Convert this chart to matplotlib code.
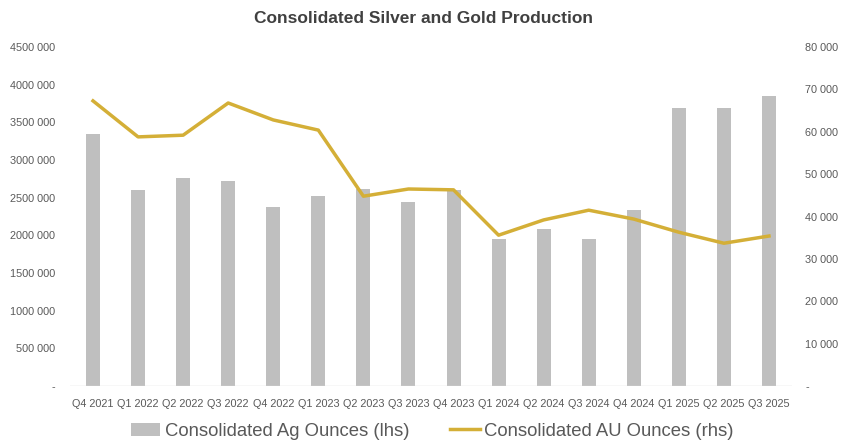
import numpy as np
import matplotlib.pyplot as plt
from matplotlib.ticker import FuncFormatter

quarters = ['Q4 2021', 'Q1 2022', 'Q2 2022', 'Q3 2022', 'Q4 2022', 'Q1 2023',
            'Q2 2023', 'Q3 2023', 'Q4 2023', 'Q1 2024', 'Q2 2024', 'Q3 2024',
            'Q4 2024', 'Q1 2025', 'Q2 2025', 'Q3 2025']
ag_oz = [3345000, 2600000, 2760000, 2720000, 2376000, 2520000, 2615000, 2440000,
         2600000, 1950000, 2080000, 1950000, 2340000, 3690000, 3690000, 3850000]
au_oz = [67300, 58800, 59200, 66800, 62800, 60400, 44800, 46500,
         46300, 35600, 39200, 41500, 39400, 36300, 33700, 35400]

plt.rcParams['font.family'] = ['Liberation Sans', 'DejaVu Sans']

def fmt(v, pos):
    if v == 0:
        return '-'
    v = int(v)
    return f'{v // 1000} {v % 1000:03d}'

fig = plt.figure(figsize=(8.46, 4.44), dpi=100)
ax = fig.add_axes([0.0833, 0.1306, 0.8523, 0.7634])
ax2 = ax.twinx()

x = np.arange(len(quarters))
bars = ax.bar(x, ag_oz, width=0.31, color='#BFBFBF', label='Consolidated Ag Ounces (lhs)')
line, = ax2.plot(x, au_oz, color='#D4AF37', linewidth=2.5, label='Consolidated AU Ounces (rhs)')

ax.set_xlim(-0.5, len(quarters) - 0.5)
ax.set_ylim(0, 4500000)
ax.set_yticks(np.arange(0, 4500001, 500000))
ax2.set_ylim(0, 80000)
ax2.set_yticks(np.arange(0, 80001, 10000))
ax.yaxis.set_major_formatter(FuncFormatter(fmt))
ax2.yaxis.set_major_formatter(FuncFormatter(fmt))

ax.set_xticks(x)
ax.set_xticklabels(quarters)
for a in (ax, ax2):
    for s in ['top', 'left', 'right', 'bottom']:
        a.spines[s].set_visible(False)
    a.tick_params(axis='both', length=0, labelsize=7.8, colors='#595959')
ax.tick_params(axis='y', pad=11)
ax2.tick_params(axis='y', pad=10)
ax.tick_params(axis='x', pad=9)
ax.axhline(0, color='#D9D9D9', linewidth=1)

fig.suptitle('Consolidated Silver and Gold Production', y=0.975, fontsize=12.5,
             fontweight='bold', color='#404040')

fig.legend(handles=[bars, line], loc='lower center', bbox_to_anchor=(0.511, -0.028),
           ncol=2, frameon=False, fontsize=13.3, labelcolor='#595959',
           handlelength=1.6, columnspacing=2.2, handletextpad=0.25)

fig.savefig('out.png', dpi=100)
